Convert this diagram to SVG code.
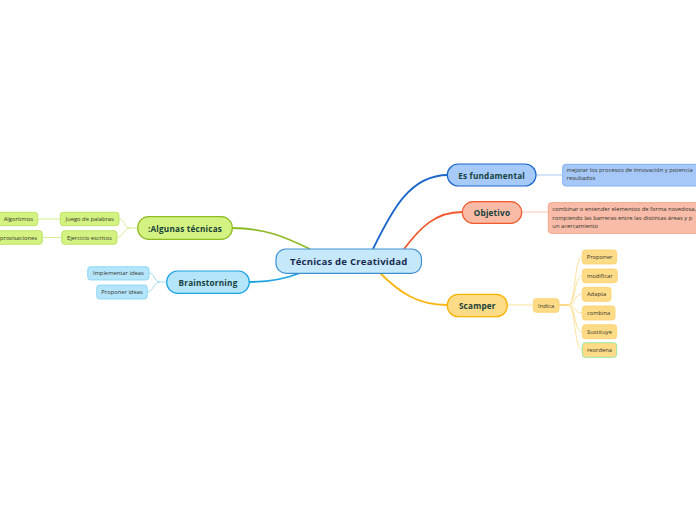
<svg xmlns="http://www.w3.org/2000/svg" width="696" height="520" viewBox="0 0 696 520">
<style>
text{font-family:"Open Sans","Noto Sans","Liberation Sans",sans-serif;}
.main{font-size:8.2px;font-weight:bold;fill:#17403a;text-anchor:middle;dominant-baseline:central;letter-spacing:0.2px}
.center{font-size:9.6px;font-weight:bold;fill:#1a2b52;text-anchor:middle;dominant-baseline:central;letter-spacing:0.2px}
.sm{font-size:5.8px;fill:#34342c;text-anchor:middle;dominant-baseline:central}
.desc{font-size:5.85px;fill:#34342c;}
.c{fill:none}
</style>
<rect width="696" height="520" fill="#ffffff"/>
<g id="connectors" class="c">
<path d="M373,249 C392,210 410,175 448,175" stroke="#1a66cc" stroke-width="1.8" fill="none"/>
<path d="M404,249 C420,228 435,212 462,212" stroke="#f25a2e" stroke-width="1.8" fill="none"/>
<path d="M380,273 C400,293 418,305 447,305" stroke="#fbb614" stroke-width="1.8" fill="none"/>
<path d="M310,249 C285,237 265,228 232,228" stroke="#8cba22" stroke-width="1.8" fill="none"/>
<path d="M300,273 C285,279 270,282 249,282" stroke="#1ba3e4" stroke-width="1.8" fill="none"/>
<path d="M536,175 L563,175" stroke="#a9cbf7" stroke-width="1" fill="none"/>
<path d="M522,212 L548,212" stroke="#f8c4b0" stroke-width="1" fill="none"/>
<path d="M507,305 L533,305" stroke="#fde29a" stroke-width="1" fill="none"/>
<path d="M559,305 L568,305" stroke="#fbb614" stroke-width="1" fill="none"/>
<g stroke="#fde29a" stroke-width="1" fill="none">
<path d="M568,305 C576,305 574,257 582,257"/>
<path d="M568,305 C576,305 574,276 582,276"/>
<path d="M568,305 C576,305 574,294 582,294"/>
<path d="M568,305 C576,305 574,313 582,313"/>
<path d="M568,305 C576,305 574,332 582,332"/>
<path d="M568,305 C576,305 574,350 582,350"/>
</g>
<g stroke="#d4ee8e" stroke-width="1" fill="none">
<path d="M138,228 L130,228"/>
<path d="M130,228 C124,228 125,219 119,219"/>
<path d="M130,228 C124,228 123,237.5 117,237.5"/>
<path d="M60,219 L38,219"/>
<path d="M62,237.5 L42,237.5"/>
</g>
<g stroke="#9edcf7" stroke-width="1" fill="none">
<path d="M167,282 L160,282"/>
<path d="M160,282 C154,282 155,273 149,273"/>
<path d="M160,282 C154,282 153,292 147,292"/>
</g>
</g>
<g id="n-center">
<rect x="276" y="249" width="145.5" height="24.3" rx="10" fill="#c6e8fb" stroke="#3f8fd2" stroke-width="1.2"/>
<text class="center" x="348.7" y="261.3">Técnicas de Creatividad</text>
</g>
<g id="n-esfundamental">
<rect x="447.3" y="164" width="88.7" height="22" rx="11" fill="#a6cbfb" stroke="#1a66cc" stroke-width="1.2"/>
<text class="main" x="491.6" y="175">Es fundamental</text>
</g>
<g id="n-mejorar">
<rect x="562.7" y="164.3" width="150" height="21.7" rx="3" fill="#a6c8f8" stroke="#84b1f0" stroke-width="1"/>
<text class="desc" x="566.5" y="171.5">mejorar los procesos de innovación y potencia</text>
<text class="desc" x="566.5" y="180.3">resultados</text>
</g>
<g id="n-objetivo">
<rect x="462.3" y="201.7" width="59.4" height="21.6" rx="10.8" fill="#f9bba6" stroke="#f25a2e" stroke-width="1.2"/>
<text class="main" x="492" y="212.5">Objetivo</text>
</g>
<g id="n-combinar">
<rect x="548.3" y="202.7" width="170" height="30.6" rx="3" fill="#f8bca8" stroke="#f4a58a" stroke-width="1"/>
<text class="desc" x="552.3" y="211">combinar o entender elementos de forma novedosa,</text>
<text class="desc" x="552.3" y="219.5">rompiendo las barreras entre las distintas áreas y p</text>
<text class="desc" x="552.3" y="228.3">un acercamiento</text>
</g>
<g id="n-scamper">
<rect x="447.3" y="294.3" width="60" height="22.4" rx="11" fill="#fedb86" stroke="#f6b300" stroke-width="1.2"/>
<text class="main" x="477.3" y="305.5">Scamper</text>
</g>
<g id="n-indica">
<rect x="533.3" y="298.7" width="25.7" height="13.6" rx="3" fill="#fedb86" stroke="#fcd068" stroke-width="0.8"/>
<text class="sm" x="546.2" y="305.5">Indica</text>
</g>
<g id="n-proponer">
<rect x="582.3" y="250" width="34.4" height="14" rx="3" fill="#fedb86" stroke="#fcd068" stroke-width="0.8"/>
<text class="sm" x="599.5" y="257">Proponer</text>
</g>
<g id="n-modificar">
<rect x="582.3" y="269" width="35" height="13.7" rx="3" fill="#fedb86" stroke="#fcd068" stroke-width="0.8"/>
<text class="sm" x="599.8" y="275.9">modificar</text>
</g>
<g id="n-adapta">
<rect x="582.3" y="287.3" width="28.7" height="14" rx="3" fill="#fedb86" stroke="#fcd068" stroke-width="0.8"/>
<text class="sm" x="596.6" y="294.3">Adapta</text>
</g>
<g id="n-combina">
<rect x="582.3" y="306" width="32.7" height="14" rx="3" fill="#fedb86" stroke="#fcd068" stroke-width="0.8"/>
<text class="sm" x="598.6" y="313">combina</text>
</g>
<g id="n-sustituye">
<rect x="582.3" y="324.7" width="34.4" height="14" rx="3" fill="#fedb86" stroke="#fcd068" stroke-width="0.8"/>
<text class="sm" x="599.5" y="331.7">Sustituye</text>
</g>
<g id="n-reordena">
<rect x="582.3" y="342.7" width="34.4" height="14.6" rx="3" fill="#fedb86" stroke="#8fe59a" stroke-width="0.9"/>
<text class="sm" x="599.5" y="350">reordena</text>
</g>
<g id="n-algunas">
<rect x="137.7" y="216.7" width="94.6" height="22.6" rx="11" fill="#d4f281" stroke="#8cba22" stroke-width="1.2"/>
<text class="main" x="185" y="228">:Algunas técnicas</text>
</g>
<g id="n-juego">
<rect x="60.3" y="212.3" width="58.7" height="13.4" rx="3" fill="#d4f281" stroke="#b5dc55" stroke-width="0.8"/>
<text class="sm" x="89.7" y="219">Juego de palabras</text>
</g>
<g id="n-ejercicio">
<rect x="61.7" y="230.7" width="55.3" height="13.6" rx="3" fill="#d4f281" stroke="#b5dc55" stroke-width="0.8"/>
<text class="sm" x="89.3" y="237.5">Ejercicio escritos</text>
</g>
<g id="n-algoritmos">
<rect x="-2" y="212.3" width="39.7" height="13.4" rx="3" fill="#d4f281" stroke="#b5dc55" stroke-width="0.8"/>
<text class="sm" x="18.3" y="219">Algoritmos</text>
</g>
<g id="n-improvisaciones">
<rect x="-14" y="230.7" width="56.3" height="13.6" rx="3" fill="#d4f281" stroke="#b5dc55" stroke-width="0.8"/>
<text class="sm" x="15" y="237.5">Improvisaciones</text>
</g>
<g id="n-brainstorning">
<rect x="166.7" y="271" width="82.6" height="22.3" rx="11" fill="#b4e5fb" stroke="#1ba3e4" stroke-width="1.2"/>
<text class="main" x="208" y="282.2">Brainstorning</text>
</g>
<g id="n-implementar">
<rect x="87.7" y="266.7" width="61.3" height="13.3" rx="3" fill="#b4e5fb" stroke="#7fcff3" stroke-width="0.8"/>
<text class="sm" x="118.3" y="273.3">Implementar ideas</text>
</g>
<g id="n-proponerideas">
<rect x="96.7" y="285" width="50.6" height="14" rx="3" fill="#b4e5fb" stroke="#7fcff3" stroke-width="0.8"/>
<text class="sm" x="122" y="292">Proponer ideas</text>
</g>
</svg>
